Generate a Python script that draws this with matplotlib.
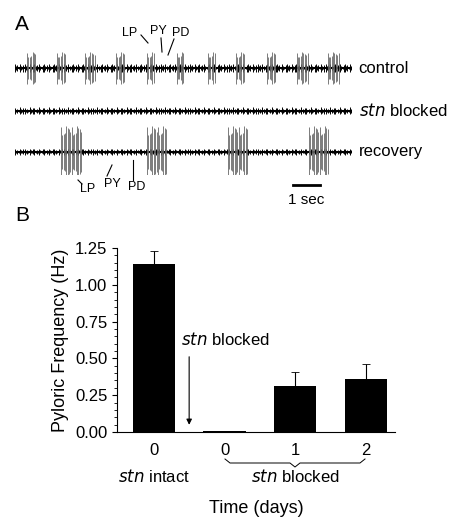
import matplotlib
matplotlib.use("Agg")
import matplotlib.pyplot as plt
import numpy as np

plt.rcParams['font.family'] = ['Liberation Sans', 'DejaVu Sans']

# ---- data: panel B ----
categories = ['0', '0', '1', '2']
freq = [1.14, 0.01, 0.31, 0.36]
sem = [0.09, 0.0, 0.10, 0.10]
yticks = [0.00, 0.25, 0.50, 0.75, 1.00, 1.25]

# ---- data: panel A (burst onsets in s, durations in s, relative amplitude) ----
trace_names = ['control', 'stn blocked', 'recovery']
control_onsets = [0.45, 1.55, 2.6, 3.75, 4.9, 6.0, 7.15, 8.2, 9.35, 10.45, 11.6]
control_durs   = [0.35, 0.3, 0.4, 0.35, 0.3, 0.3, 0.3, 0.35, 0.3, 0.4, 0.4]
blocked_onsets = []
blocked_durs = []
recovery_onsets = [1.7, 4.9, 7.9, 10.9]
recovery_durs   = [0.75, 0.7, 0.75, 0.75]
burst_amp = [0.5, 0.0, 0.8]
noise_amp = [0.22, 0.18, 0.16]
amp_cycle = [0.9, 0.4, 0.7, 0.25, 1.0, 0.5, 0.3, 0.8]

fig = plt.figure(figsize=(4.74, 5.24), dpi=100)

# Panel A
axA = fig.add_axes([15/474, 1-175/524, 337/474, 130/524])
axA.set_xlim(0, 12.5)
axA.set_ylim(-3.0, 1.0)
axA.axis('off')
baselines = [0.29, -1.03, -2.29]
onsets = [control_onsets, blocked_onsets, recovery_onsets]
durs = [control_durs, blocked_durs, recovery_durs]
for k in range(3):
    b = baselines[k]
    t = np.arange(0, 12.5, 0.045)
    a = np.array([amp_cycle[i % len(amp_cycle)] for i in range(len(t))]) * noise_amp[k]
    axA.vlines(t, b - a * 0.6, b + a * 0.6, color='black', lw=0.7)
    axA.plot([0, 12.5], [b, b], color='black', lw=1.5)
    for o, d in zip(onsets[k], durs[k]):
        ts = np.arange(o, o + d, 0.05)
        aa = np.array([amp_cycle[(i * 3) % len(amp_cycle)] for i in range(len(ts))])
        hi = burst_amp[k] * (0.55 + 0.45 * aa)
        axA.vlines(ts, b - hi, b + hi, color='0.4', lw=0.6)
    if k != 1:
        axA.text(12.75, b, trace_names[k], va='center', ha='left', fontsize=12, clip_on=False)
axA.text(12.75, baselines[1], '$\\it{stn}$ blocked', va='center', ha='left', fontsize=12, clip_on=False)

fig.text(15/474, 1-34/524, 'A', fontsize=15, ha='left', va='bottom')
fig.text(15/474, 1-225/524, 'B', fontsize=15, ha='left', va='bottom')
for lbl, (tx, ty), (x0, y0, x1, y1) in [
    ('LP', (122, 39), (141, 35, 148, 43)),
    ('PY', (150, 37), (161, 38, 162, 52)),
    ('PD', (172, 39), (174, 39, 168, 55)),
    ('LP', (80, 195), (78, 180, 82, 184)),
    ('PY', (104, 190), (107, 176, 112, 165)),
    ('PD', (128, 193), (133, 180, 133, 160)),
]:
    fig.text(tx/474, 1-ty/524, lbl, fontsize=9, ha='left', va='bottom')
    fig.add_artist(plt.Line2D([x0/474, x1/474], [1-y0/524, 1-y1/524], color='black', lw=0.8))
fig.add_artist(plt.Line2D([293/474, 320/474], [1-185/524, 1-185/524], color='black', lw=2))
fig.text(306/474, 1-207/524, '1 sec', fontsize=11, ha='center', va='bottom')

# Panel B
axB = fig.add_axes([117/474, 1-432/524, 278/474, 184/524])
x = np.arange(len(freq))
axB.bar(x, freq, width=0.6, color='black')
axB.errorbar(x, freq, yerr=[np.zeros(len(sem)), sem], fmt='none', ecolor='black', elinewidth=0.8, capsize=3, capthick=0.6)
axB.set_xlim(-0.52, 3.41)
axB.set_ylim(0, 1.25)
axB.set_yticks(yticks)
axB.set_yticklabels([f'{v:.2f}' for v in yticks], fontsize=12)
axB.set_yticks(np.arange(0, 1.26, 0.05), minor=True)
axB.tick_params(axis='y', which='minor', length=2)
axB.set_xticks(x)
axB.set_xticklabels(categories, fontsize=12)
axB.tick_params(axis='x', length=0, pad=8)
axB.spines['top'].set_visible(False)
axB.spines['right'].set_visible(False)
axB.set_ylabel('Pyloric Frequency (Hz)', fontsize=13)
axB.set_xlabel('Time (days)', fontsize=13, labelpad=30)
axB.annotate('', xy=(0.5, 0.03), xytext=(0.5, 0.53),
             arrowprops=dict(arrowstyle='-|>', color='black', lw=0.8, mutation_scale=8))
axB.text(0.38, 0.63, '$\\it{stn}$ blocked', fontsize=12, ha='left', va='center')
axB.text(0, -0.30, '$\\it{stn}$ intact', fontsize=12, ha='center', va='center', clip_on=False)
axB.text(2, -0.30, '$\\it{stn}$ blocked', fontsize=12, ha='center', va='center', clip_on=False)
fig.add_artist(plt.Line2D([225/474, 230/474, 290/474, 295/474, 300/474, 360/474, 365/474],
                          [1-459/524, 1-463/524, 1-463/524, 1-467/524, 1-463/524, 1-463/524, 1-459/524],
                          color='black', lw=0.7))

fig.savefig('out.png', dpi=100)
